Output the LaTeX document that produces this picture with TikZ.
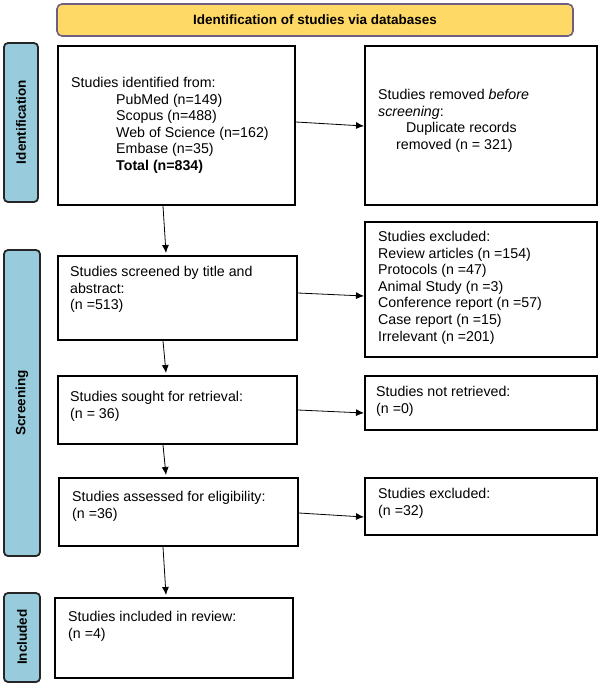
\documentclass[tikz,border=0pt]{standalone}
\usepackage{fontspec}
\setmainfont{Liberation Sans}
\usetikzlibrary{arrows.meta}
\begin{document}
\begin{tikzpicture}[x=1pt,y=-1pt,
  box/.style={draw=black,line width=1.6pt,fill=white},
  side/.style={draw=black!85,line width=1.8pt,fill={rgb,255:red,152;green,204;blue,220},rounded corners=4pt},
  txt/.style={anchor=north west,align=left,font=\fontsize{14.2}{16.6}\selectfont,inner sep=0pt},
  lab/.style={font=\bfseries\fontsize{13.5}{15}\selectfont},
  arr/.style={-{Latex[length=8pt,width=7pt]},line width=0.8pt}]
\useasboundingbox (0,0) rectangle (610,685);
% banner
\draw[line width=1.6pt,draw={rgb,255:red,110;green,95;blue,130},fill={rgb,255:red,255;green,217;blue,102},rounded corners=5pt] (57,4) rectangle (573,36);
\node[lab] (ban) at (315,20) {Identification of studies via databases};
% side labels
\draw[side] (4,43) rectangle (38,202);
\node[rotate=90,lab] (lid) at (21,122) {Identification};
\draw[side] (4,250) rectangle (40,556);
\node[rotate=90,lab] (lsc) at (22,403) {Screening};
\draw[side] (4,593) rectangle (40,682);
\node[rotate=90,lab] (lin) at (22,637) {Included};
% boxes
\draw[box] (58,46) rectangle (295,205);
\node[txt] (t1) at (71,77) {Studies identified from:\\
\hspace{45pt}PubMed (n=149)\\
\hspace{45pt}Scopus (n=488)\\
\hspace{45pt}Web of Science (n=162)\\
\hspace{45pt}Embase (n=35)\\
\hspace{45pt}\textbf{Total (n=834)}};
\draw[box] (365,46) rectangle (597,205);
\node[txt] (t2) at (378,89) {Studies removed \emph{before}\\\emph{screening}:\\
\hspace{28pt}Duplicate records\\
\hspace{18pt}removed (n = 321)};
\draw[box] (58,256) rectangle (297,340);
\node[txt] (t3) at (70,266) {Studies screened by title and\\abstract:\\(n =513)};
\draw[box] (365,222) rectangle (597,357);
\node[txt] (t4) at (378,231) {Studies excluded:\\Review articles (n =154)\\Protocols (n =47)\\Animal Study (n =3)\\Conference report (n =57)\\Case report (n =15)\\Irrelevant (n =201)};
\draw[box] (58,376) rectangle (297,444);
\node[txt] (t5) at (70,391) {Studies sought for retrieval:\\(n = 36)};
\draw[box] (365,376) rectangle (597,430);
\node[txt] (t6) at (376,386) {Studies not retrieved:\\(n =0)};
\draw[box] (59,478) rectangle (298,546);
\node[txt] (t7) at (72,491) {Studies assessed for eligibility:\\(n =36)};
\draw[box] (365,478) rectangle (597,535);
\node[txt] (t8) at (378,488) {Studies excluded:\\(n =32)};
\draw[box] (55,598) rectangle (293,678);
\node[txt] (t9) at (68,611) {Studies included in review:\\(n =4)};
% arrows
\coordinate (a1) at (163,206); \coordinate (a1e) at (166,253);
\coordinate (a2) at (296,122); \coordinate (a2e) at (364,126);
\coordinate (a3) at (298,293); \coordinate (a3e) at (364,296);
\coordinate (a4) at (163,341); \coordinate (a4e) at (166,373);
\coordinate (a5) at (298,410); \coordinate (a5e) at (364,413);
\coordinate (a6) at (163,445); \coordinate (a6e) at (166,475);
\coordinate (a7) at (299,513); \coordinate (a7e) at (364,517);
\coordinate (a8) at (163,547); \coordinate (a8e) at (166,595);
\foreach \i in {1,...,8} \draw[arr] (a\i) -- (a\i e);
\end{tikzpicture}
\end{document}
